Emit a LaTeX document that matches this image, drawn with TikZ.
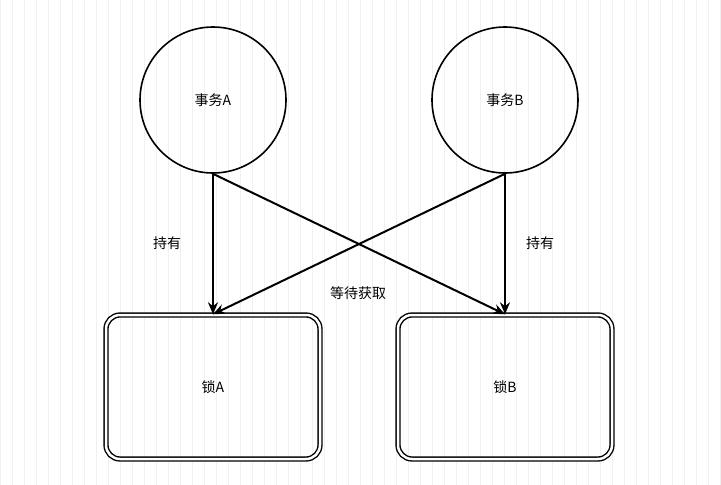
\documentclass[tikz,border=0pt]{standalone}
\usepackage{fontspec}
\setmainfont{Noto Sans CJK SC}
\usetikzlibrary{arrows.meta,positioning}

\begin{document}
\begin{tikzpicture}[x=1pt,y=-1pt,>={Stealth[length=12pt,width=10pt]},
  txn/.style={circle,draw,line width=1.6pt,minimum size=146pt,font=\fontsize{14}{16}\selectfont},
  lockbox/.style={rectangle,rounded corners=14pt,draw,line width=1.4pt,double=white,
    double distance=2.5pt,minimum width=214pt,minimum height=144pt,font=\fontsize{14}{16}\selectfont},
  link/.style={->,line width=2pt},
  lbl/.style={font=\fontsize{14}{16}\selectfont}]
  \useasboundingbox (0,0) rectangle (721,485);
  \draw[gray!12,step=12] (0,0) grid (721,485);
  \node[txn]     (tA) at (213,100) {事务A};
  \node[txn]     (tB) at (505,100) {事务B};
  \node[lockbox] (lA) at (213,387) {锁A};
  \node[lockbox] (lB) at (505,387) {锁B};
  \draw[link] (tA.south) -- (lA.north);
  \draw[link] (tB.south) -- (lB.north);
  \draw[link] (tA.south) -- (lB.north);
  \draw[link] (tB.south) -- (lA.north);
  \node[lbl] (hA) at (167,243) {持有};
  \node[lbl] (hB) at (540,243) {持有};
  \node[lbl] (wt) at (358,293) {等待获取};
\end{tikzpicture}
\end{document}
